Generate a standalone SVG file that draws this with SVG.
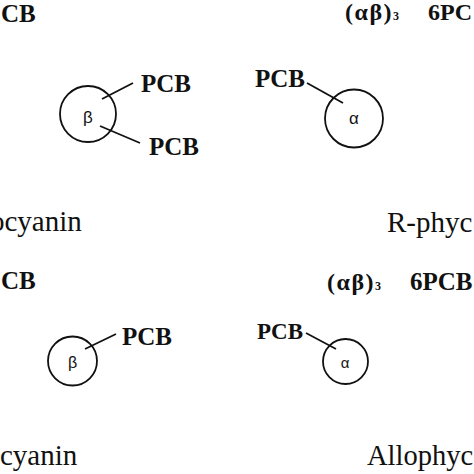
<svg xmlns="http://www.w3.org/2000/svg" width="474" height="474" viewBox="0 0 474 474">
<style>
.bg{fill:#fff}
.c{fill:none;stroke:#111;stroke-width:1.8}
.ln{stroke:#111;stroke-width:1.8;fill:none}
.b{font-family:"Liberation Serif","Times New Roman",serif;font-weight:bold;fill:#111}
.r{font-family:"Liberation Serif","Times New Roman",serif;fill:#111}
.g{font-family:"Liberation Sans",Arial,sans-serif;fill:#111;text-anchor:middle}
</style>
<rect class="bg" width="474" height="474"/>
<g id="headers">
<text class="b" x="1" y="22" font-size="25">CB</text>
<text class="b" x="345" y="20" font-size="24" letter-spacing="1.5">(αβ)<tspan font-size="12" letter-spacing="0">3</tspan></text>
<text class="b" x="428" y="20" font-size="24">6PC</text>
<text class="b" x="1" y="289" font-size="25">CB</text>
<text class="b" x="327" y="290" font-size="24" letter-spacing="1.5">(αβ)<tspan font-size="12" letter-spacing="0">3</tspan></text>
<text class="b" x="410" y="290" font-size="25">6PCB</text>
</g>
<g id="node-beta-top">
<circle class="c" cx="88" cy="114" r="28"/>
<text class="g" x="88" y="123" font-size="17">β</text>
</g>
<g id="node-alpha-top">
<circle class="c" cx="354" cy="118.5" r="29"/>
<text class="g" x="354" y="124" font-size="17">α</text>
</g>
<g id="node-beta-bottom">
<circle class="c" cx="72.5" cy="361" r="24.5"/>
<text class="g" x="72.5" y="368" font-size="16">β</text>
</g>
<g id="node-alpha-bottom">
<circle class="c" cx="345.5" cy="361.5" r="22.5"/>
<text class="g" x="345" y="368" font-size="15">α</text>
</g>
<g id="pcb-labels">
<text class="b" x="141" y="92" font-size="25">PCB</text>
<text class="b" x="149" y="155" font-size="25">PCB</text>
<text class="b" x="255" y="87" font-size="25">PCB</text>
<text class="b" x="122" y="345" font-size="25">PCB</text>
<text class="b" x="257" y="339" font-size="23">PCB</text>
</g>
<g id="connectors">
<line class="ln" x1="102" y1="99" x2="133" y2="83"/>
<line class="ln" x1="100" y1="126" x2="140" y2="143"/>
<line class="ln" x1="307" y1="83" x2="343" y2="103"/>
<line class="ln" x1="85" y1="349" x2="116" y2="334"/>
<line class="ln" x1="306" y1="333" x2="336" y2="349"/>
</g>
<g id="captions">
<text class="r" x="-10" y="231" font-size="29">ocyanin</text>
<text class="r" x="387" y="232" font-size="29">R-phyc</text>
<text class="r" x="0" y="465" font-size="29">cyanin</text>
<text class="r" x="367" y="465" font-size="28.5">Allophyc</text>
</g>
</svg>
